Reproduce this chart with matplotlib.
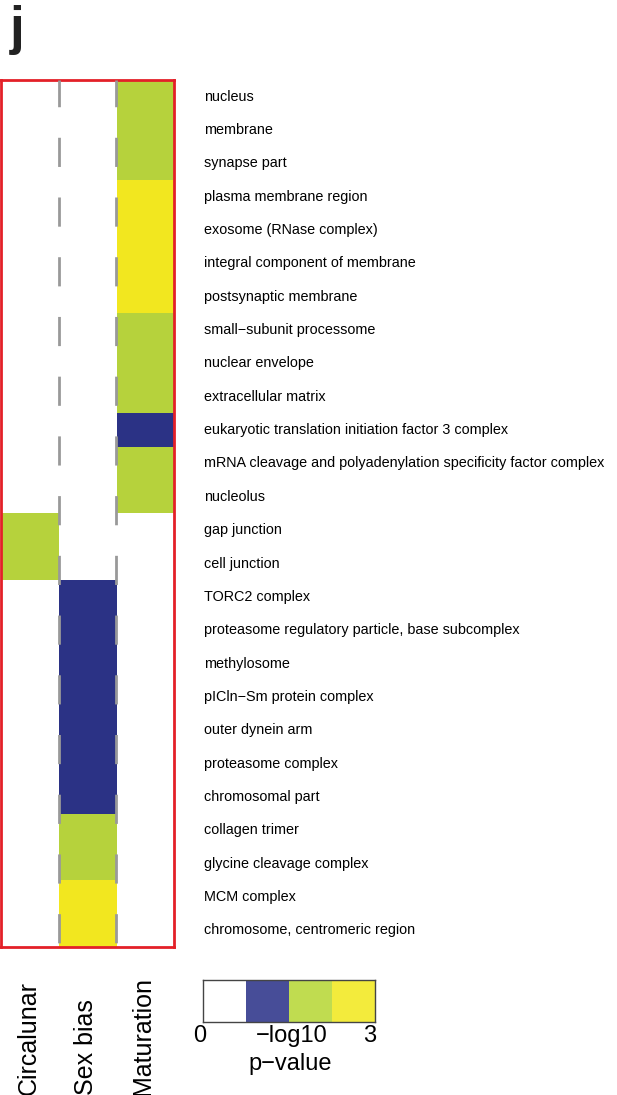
import matplotlib
matplotlib.use("Agg")
import matplotlib.pyplot as plt
from matplotlib.colors import ListedColormap, BoundaryNorm
import numpy as np

plt.rcParams["font.family"] = "Liberation Sans"

terms = ["nucleus", "membrane", "synapse part", "plasma membrane region",
         "exosome (RNase complex)", "integral component of membrane",
         "postsynaptic membrane", "small\u2212subunit processome", "nuclear envelope",
         "extracellular matrix", "eukaryotic translation initiation factor 3 complex",
         "mRNA cleavage and polyadenylation specificity factor complex", "nucleolus",
         "gap junction", "cell junction", "TORC2 complex",
         "proteasome regulatory particle, base subcomplex", "methylosome",
         "pICln\u2212Sm protein complex", "outer dynein arm", "proteasome complex",
         "chromosomal part", "collagen trimer", "glycine cleavage complex",
         "MCM complex", "chromosome, centromeric region"]
columns = ["Circalunar", "Sex bias", "Maturation"]
circalunar = [0]*13 + [2, 2] + [0]*11
sex_bias = [0]*15 + [1]*7 + [2, 2, 3, 3]
maturation = [2, 2, 2, 3, 3, 3, 3, 2, 2, 2, 1, 2, 2] + [0]*13

W, H = 617, 1095
fig = plt.figure(figsize=(W/100, H/100), dpi=100)
def ax_px(x0, y0, x1, y1):
    return fig.add_axes([x0/W, 1-y1/H, (x1-x0)/W, (y1-y0)/H])

colors = ["#ffffff", "#2b3285", "#b6d23c", "#f2e71f"]
cmap = ListedColormap(colors)
norm = BoundaryNorm([-0.5, 0.5, 1.5, 2.5, 3.5], 4)

data = np.array([circalunar, sex_bias, maturation]).T
ax = ax_px(1, 80, 174, 947)
ax.imshow(data, cmap=cmap, norm=norm, aspect="auto", interpolation="nearest")
n = len(terms)
for x in [0.5, 1.5]:
    ax.axvline(x, color="#999999", lw=2, linestyle=(-1.5, (10.5, 11)), zorder=3)
ax.set_xlim(-0.5, 2.5); ax.set_ylim(n-0.5, -0.5)
ax.set_xticks([]); ax.set_yticks([])
for s in ax.spines.values():
    s.set_color("#e32028"); s.set_linewidth(2)
for i, t in enumerate(terms):
    ax.text(3.02, i, t, fontsize=10.4, va="center", ha="left", clip_on=False)

for j, c in enumerate(columns):
    fig.text((29 + 57*j)/W, 1-1095/H, c, rotation=90, fontsize=18, ha="center", va="bottom")

legend_colors = ListedColormap(["#ffffff", "#474d98", "#c0dc50", "#f3eb3c"])
cax = ax_px(203, 980, 375, 1022)
cax.imshow(np.array([[0, 1, 2, 3]]), cmap=legend_colors, norm=norm, aspect="auto", extent=[0, 4, 0, 1])
cax.set_xticks([]); cax.set_yticks([])
for s in cax.spines.values():
    s.set_color("#444444"); s.set_linewidth(1)
fig.text(200/W, 1-1036/H, "0", fontsize=17, ha="center", va="center")
fig.text(292/W, 1-1036/H, "\u2212log10", fontsize=17, ha="center", va="center")
fig.text(370/W, 1-1036/H, "3", fontsize=17, ha="center", va="center")
fig.text(290/W, 1-1064/H, "p\u2212value", fontsize=17, ha="center", va="center")
fig.text(10/W, 1-30/H, "j", fontsize=38, fontweight="bold", ha="left", va="center", color="#222222")

fig.savefig("out.png", dpi=100)
